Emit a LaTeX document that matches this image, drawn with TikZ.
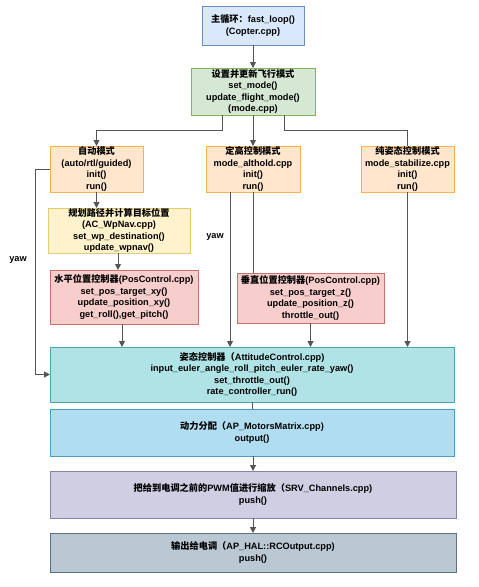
\documentclass[tikz,border=0pt]{standalone}
\usepackage{fontspec}
\setmainfont{Liberation Sans}
\newfontfamily\cjk{Noto Sans CJK SC}
\newcommand{\zh}[1]{{\cjk\bfseries #1}}
\usepackage{tikz}
\usetikzlibrary{positioning,calc,arrows.meta}

\definecolor{loopfill}{HTML}{DAE8FC}\definecolor{loopline}{HTML}{6C8EBF}
\definecolor{modefill}{HTML}{D5E8D4}\definecolor{modeline}{HTML}{82B366}
\definecolor{flyfill}{HTML}{FFE6CC}\definecolor{flyline}{HTML}{F0B44A}
\definecolor{navfill}{HTML}{FFF2CC}\definecolor{navline}{HTML}{E6CC70}
\definecolor{posfill}{HTML}{F8CECC}\definecolor{posline}{HTML}{C8706C}
\definecolor{attfill}{HTML}{B0E3E6}\definecolor{attline}{HTML}{4AA6AE}
\definecolor{motfill}{HTML}{B1DDF0}\definecolor{motline}{HTML}{4A9CC2}
\definecolor{srvfill}{HTML}{D0CEE2}\definecolor{srvline}{HTML}{8682A8}
\definecolor{halfill}{HTML}{BAC8D3}\definecolor{halline}{HTML}{5A7288}
\definecolor{wire}{HTML}{555555}

\begin{document}
\begin{tikzpicture}[x=1pt, y=-1pt, outer sep=0pt,
    box/.style={draw, rectangle, inner sep=0pt, align=center, line width=1pt,
        font=\fontsize{9.2}{11.4}\selectfont\bfseries},
    loopbox/.style={box, fill=loopfill, draw=loopline},
    modebox/.style={box, fill=modefill, draw=modeline},
    flybox/.style={box, fill=flyfill, draw=flyline},
    navbox/.style={box, fill=navfill, draw=navline},
    posbox/.style={box, fill=posfill, draw=posline},
    attbox/.style={box, fill=attfill, draw=attline},
    motbox/.style={box, fill=motfill, draw=motline},
    srvbox/.style={box, fill=srvfill, draw=srvline},
    halbox/.style={box, fill=halfill, draw=halline},
    wireline/.style={draw=wire, line width=1pt},
    flow/.style={wireline, -{Triangle[length=6pt, width=6pt]}},
    yawlabel/.style={font=\fontsize{9.2}{11}\selectfont\bfseries}]
    \useasboundingbox (0,0) rectangle (479,587);

    \node [loopbox, minimum width=102, minimum height=39] (loop) at (253,25.5) {\zh{主循环：}fast\_loop()\\(Copter.cpp)};
    \node [modebox, minimum width=124, minimum height=47] (mode) at (253,91.5) {\zh{设置并更新飞行模式}\\set\_mode()\\update\_flight\_mode()\\(mode.cpp)};

    \node [flybox, minimum width=93, minimum height=46] (auto) at (96.5,169) {\zh{自动模式}\\(auto/rtl/guided)\\init()\\run()};
    \node [flybox, minimum width=94, minimum height=46] (althold) at (253,169) {\zh{定高控制模式}\\mode\_althold.cpp\\init()\\run()};
    \node [flybox, minimum width=93, minimum height=46] (stab) at (407.5,169) {\zh{纯姿态控制模式}\\mode\_stabilize.cpp\\init()\\run()};

    \node [navbox, minimum width=142, minimum height=45] (wpnav) at (119,230.5) {\zh{规划路径并计算目标位置}\\(AC\_WpNav.cpp)\\set\_wp\_destination()\\update\_wpnav()};
    \node [posbox, minimum width=148, minimum height=54] (posxy) at (124,297) {\zh{水平位置控制器}(PosControl.cpp)\\set\_pos\_target\_xy()\\update\_position\_xy()\\get\_roll(),get\_pitch()};
    \node [posbox, minimum width=147, minimum height=50] (posz) at (310.5,298) {\zh{垂直位置控制器}(PosControl.cpp)\\set\_pos\_target\_z()\\update\_position\_z()\\throttle\_out()};

    \node [attbox, minimum width=404, minimum height=55] (att) at (252,374.5) {\zh{姿态控制器（}AttitudeControl.cpp)\\input\_euler\_angle\_roll\_pitch\_euler\_rate\_yaw()\\set\_throttle\_out()\\rate\_controller\_run()};
    \node [motbox, minimum width=404, minimum height=47] (mot) at (252,432.5) {\zh{动力分配（}AP\_MotorsMatrix.cpp)\\output()};
    \node [srvbox, minimum width=406, minimum height=47] (srv) at (253,494.5) {\zh{把给到电调之前的}PWM\zh{值进行缩放（}SRV\_Channels.cpp)\\push()};
    \node [halbox, minimum width=406, minimum height=39] (hal) at (253,552.5) {\zh{输出给电调（}AP\_HAL::RCOutput.cpp)\\push()};

    \node [yawlabel] (yawa) at (18,260) {yaw};
    \node [yawlabel] (yawb) at (215,237) {yaw};

    % loop -> modes
    \draw [flow] (loop) -- (mode);
    \draw [flow] ([xshift=-31pt]mode.south) -- ++(0,15) -| (auto.north);
    \draw [flow] (mode.south) -- (althold.north);
    \draw [wireline] ([xshift=31pt]mode.south) -- ++(0,15) -| (stab.north);

    % auto mode branch
    \draw [flow] (auto.west) -- ++(-15,0) |- (att.west);
    \draw [flow] (auto.south) -- (auto.south |- wpnav.north);
    \draw [flow] ([xshift=-1pt]wpnav.south) -- ([xshift=-1pt]wpnav.south |- posxy.north);
    \draw [flow] ([xshift=-2pt]posxy.south) -- ([xshift=-2pt]posxy.south |- att.north);

    % althold branch
    \draw [flow] ([xshift=-23pt]althold.south) -- ([xshift=-23pt]althold.south |- att.north);
    \draw [wireline] (althold.south) -- (althold.south |- posz.north);
    \draw [flow] (posz.south) -- (posz.south |- att.north);

    % stabilize branch
    \draw [flow] (stab.south) -- (stab.south |- att.north);

    % output chain
    \draw [wireline] (att.south) -- (mot.north);
    \draw [flow] ([xshift=1pt]mot.south) -- ([xshift=1pt]mot.south |- srv.north);
    \draw [flow] (srv) -- (hal);
\end{tikzpicture}
\end{document}
